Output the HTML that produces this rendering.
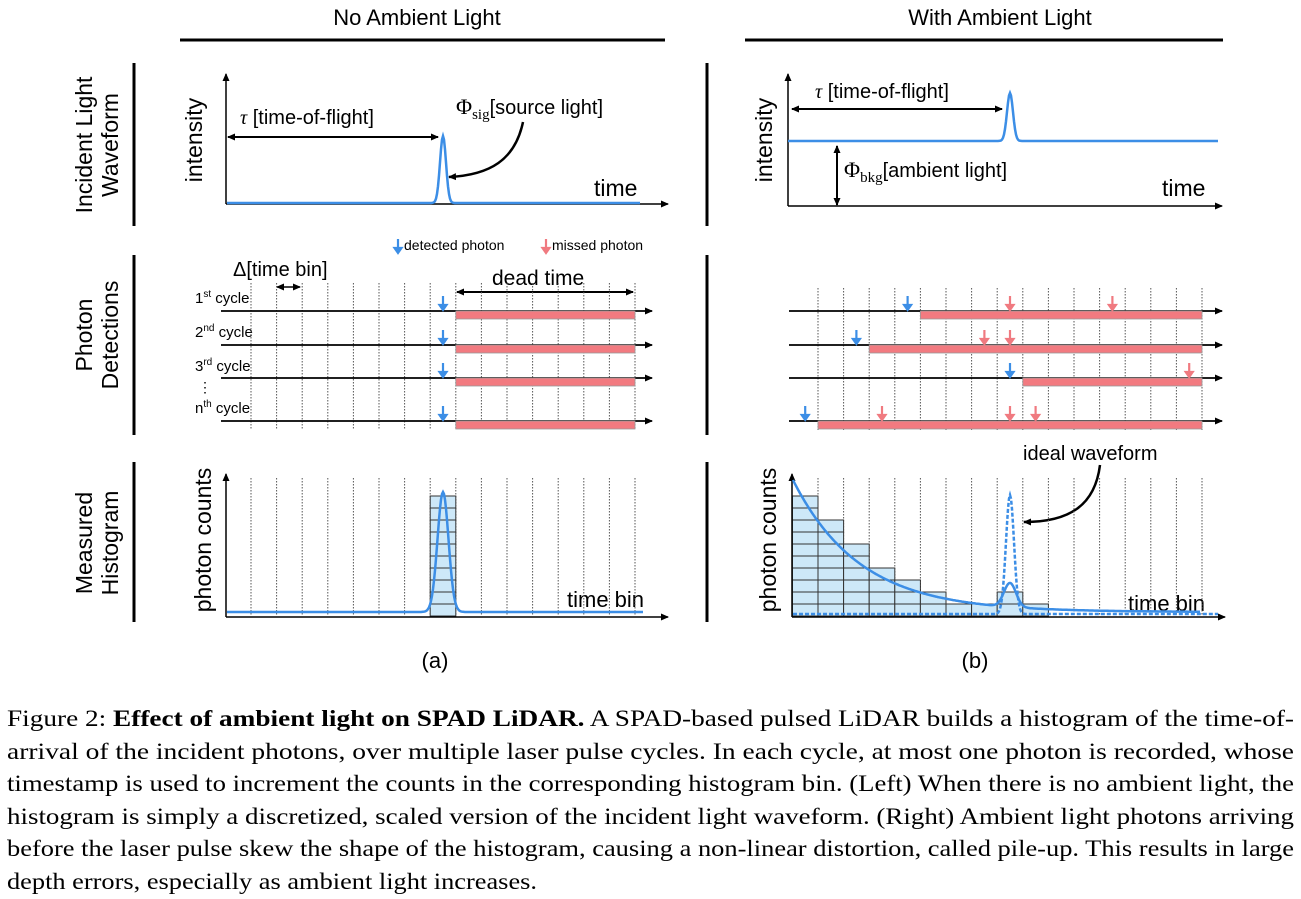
<!DOCTYPE html>
<html><head><meta charset="utf-8"><style>
html,body{margin:0;padding:0;background:#fff;width:1301px;height:899px;overflow:hidden}
svg{position:absolute;left:0;top:0}
text{font-family:"Liberation Sans",sans-serif}
#cap text{font-family:"Liberation Serif",serif;font-size:23.5px}
</style></head><body>
<svg id="fig" width="1301" height="899">
<defs>
<marker id="ah" markerWidth="8" markerHeight="8" refX="7" refY="4" orient="auto" markerUnits="userSpaceOnUse"><path d="M0,0.5 L8,4 L0,7.5 z" fill="#000"/></marker>
<marker id="ahs" markerWidth="8" markerHeight="8" refX="7" refY="4" orient="auto-start-reverse" markerUnits="userSpaceOnUse"><path d="M0,0.5 L8,4 L0,7.5 z" fill="#000"/></marker>
</defs>
<g id="static">
<text x="417" y="25" font-size="22" text-anchor="middle">No Ambient Light</text>
<line x1="180" y1="40" x2="665" y2="40" stroke="#000" stroke-width="3"/>
<text x="1000" y="25" font-size="22" text-anchor="middle">With Ambient Light</text>
<line x1="745" y1="40" x2="1223" y2="40" stroke="#000" stroke-width="3"/>
<g font-size="23" text-anchor="middle">
<text transform="translate(92,145) rotate(-90)">Incident Light</text>
<text transform="translate(118,145) rotate(-90)">Waveform</text>
<text transform="translate(92,335) rotate(-90)">Photon</text>
<text transform="translate(118,335) rotate(-90)">Detections</text>
<text transform="translate(92,543) rotate(-90)">Measured</text>
<text transform="translate(118,543) rotate(-90)">Histogram</text>
</g>
<g stroke="#000" stroke-width="3">
<line x1="134" y1="63" x2="134" y2="226"/><line x1="134" y1="255" x2="134" y2="435"/><line x1="134" y1="462" x2="134" y2="622"/>
<line x1="707" y1="63" x2="707" y2="226"/><line x1="707" y1="255" x2="707" y2="435"/><line x1="707" y1="462" x2="707" y2="622"/>
</g>
<text x="435" y="668" font-size="22" text-anchor="middle">(a)</text>
<text x="975" y="668" font-size="22" text-anchor="middle">(b)</text>

<line x1="226" y1="204" x2="226" y2="74" stroke="#000" stroke-width="1.5" marker-end="url(#ah)"/>
<line x1="226" y1="204" x2="668" y2="204" stroke="#000" stroke-width="1.5" marker-end="url(#ah)"/>
<text transform="translate(202,140) rotate(-90)" font-size="23" text-anchor="middle">intensity</text>
<text x="594" y="196" font-size="23">time</text>
<line x1="228" y1="137" x2="438" y2="137" stroke="#000" stroke-width="2" marker-start="url(#ahs)" marker-end="url(#ah)"/>
<text x="240" y="124" font-size="20"><tspan font-family="Liberation Serif" font-style="italic">τ</tspan> [time-of-flight]</text>
<text x="456" y="114" font-size="20"><tspan font-family="Liberation Serif" font-size="22">Φ</tspan><tspan font-family="Liberation Serif" font-size="15" dy="5">sig</tspan><tspan dy="-5">[source light]</tspan></text>
<path d="M523,122 C515,160 490,175 449,177" fill="none" stroke="#000" stroke-width="2.5" marker-end="url(#ah)"/>
<line x1="788" y1="206" x2="788" y2="74" stroke="#000" stroke-width="1.5" marker-end="url(#ah)"/>
<line x1="788" y1="206" x2="1222" y2="206" stroke="#000" stroke-width="1.5" marker-end="url(#ah)"/>
<text transform="translate(772,140) rotate(-90)" font-size="23" text-anchor="middle">intensity</text>
<text x="1162" y="196" font-size="23">time</text>
<line x1="792" y1="109" x2="1002" y2="109" stroke="#000" stroke-width="2" marker-start="url(#ahs)" marker-end="url(#ah)"/>
<text x="815" y="98" font-size="20"><tspan font-family="Liberation Serif" font-style="italic">τ</tspan> [time-of-flight]</text>
<line x1="837" y1="146" x2="837" y2="205" stroke="#000" stroke-width="2" marker-start="url(#ahs)" marker-end="url(#ah)"/>
<text x="844" y="177" font-size="20"><tspan font-family="Liberation Serif" font-size="22">Φ</tspan><tspan font-family="Liberation Serif" font-size="15" dy="5">bkg</tspan><tspan dy="-5">[ambient light]</tspan></text>

<text x="404" y="250" font-size="14">detected photon</text>
<text x="552" y="250" font-size="14">missed photon</text>
<text x="233" y="276" font-size="20">Δ[time bin]</text>
<line x1="277" y1="287" x2="300" y2="287" stroke="#000" stroke-width="1.5" marker-start="url(#ahs)" marker-end="url(#ah)"/>
<text x="492" y="285" font-size="21">dead time</text>
<line x1="457" y1="292" x2="633" y2="292" stroke="#000" stroke-width="2" marker-start="url(#ahs)" marker-end="url(#ah)"/>
<g font-size="15">
<text x="195" y="303">1<tspan font-size="10" dy="-6">st</tspan><tspan dy="6"> cycle</tspan></text>
<text x="195" y="337">2<tspan font-size="10" dy="-6">nd</tspan><tspan dy="6"> cycle</tspan></text>
<text x="195" y="371">3<tspan font-size="10" dy="-6">rd</tspan><tspan dy="6"> cycle</tspan></text>
<text x="198" y="392" font-size="14">⋮</text>
<text x="195" y="413">n<tspan font-size="10" dy="-6">th</tspan><tspan dy="6"> cycle</tspan></text>
</g>
<text transform="translate(211,540) rotate(-90)" font-size="23" text-anchor="middle">photon counts</text>
<text x="567" y="607" font-size="22">time bin</text>
<text transform="translate(776,540) rotate(-90)" font-size="23" text-anchor="middle">photon counts</text>
<text x="1128" y="611" font-size="22">time bin</text>
<text x="1023" y="460" font-size="20">ideal waveform</text>
<path d="M1100,465 C1095,505 1070,522 1024,522" fill="none" stroke="#000" stroke-width="2.5" marker-end="url(#ah)"/>
</g>
<g id="dyn"></g>
<g id="cap">
<text x="7" y="726" textLength="1287" lengthAdjust="spacingAndGlyphs">Figure 2: <tspan font-weight="bold">Effect of ambient light on SPAD LiDAR.</tspan> A SPAD-based pulsed LiDAR builds a histogram of the time-of-</text>
<text x="7" y="759" textLength="1287" lengthAdjust="spacingAndGlyphs">arrival of the incident photons, over multiple laser pulse cycles. In each cycle, at most one photon is recorded, whose</text>
<text x="7" y="791" textLength="1287" lengthAdjust="spacingAndGlyphs">timestamp is used to increment the counts in the corresponding histogram bin. (Left) When there is no ambient light, the</text>
<text x="7" y="824" textLength="1287" lengthAdjust="spacingAndGlyphs">histogram is simply a discretized, scaled version of the incident light waveform. (Right) Ambient light photons arriving</text>
<text x="7" y="856" textLength="1287" lengthAdjust="spacingAndGlyphs">before the laser pulse skew the shape of the histogram, causing a non-linear distortion, called pile-up. This results in large</text>
<text x="7" y="889" textLength="530" lengthAdjust="spacingAndGlyphs">depth errors, especially as ambient light increases.</text>
</g>
</svg>
<script>
// data: bin indices (0..15)
const leftHistCounts = [0,0,0,0,0,0,0,0,10,0,0,0,0,0,0,0];
const rightHistCounts = [10,8,6,4,3,2,1,1,2,1,0,0,0,0,0,0];
const leftDetected = [[8],[8],[8],[8]];
const leftMissed = [[],[],[],[]];
const leftDeadStart = [9,9,9,9];
const rightDetected = [[4],[2],[8],[0]];
const rightMissed = [[8,12],[7,8],[15],[3,8,9]];
const rightDeadStart = [5,3,9,1];

const NS='http://www.w3.org/2000/svg';
const dyn=document.getElementById('dyn');
function mk(tag,attrs,parent){const e=document.createElementNS(NS,tag);for(const k in attrs)e.setAttribute(k,attrs[k]);(parent||dyn).appendChild(e);return e;}
const BW=25.6;
const rowsY=[311,345,378,421];
const L={x0:226,grid0:225.4,lineStart:221,lineEnd:652};
const R={x0:792,grid0:792.4,lineStart:789,lineEnd:1222};
function bx(P,i){return P.grid0+i*BW;}
function yc(c){return 616-c*12;}

function arrow(x,y,c,name){
  const a=mk('path',{d:`M${x},${y-15} L${x},${y-5} M${x-3.5},${y-6} L${x},${y-1} L${x+3.5},${y-6} Z`,stroke:c,'stroke-width':2.2,fill:c});
  
  
}
function detections(P,det,miss,deadStart){
  for(let i=1;i<=16;i++){
    const l=mk('line',{x1:bx(P,i),y1:P===L?283:288,x2:bx(P,i),y2:430,stroke:'#555','stroke-width':1,'stroke-dasharray':'1.5,1.5'});
    
    
  }
  rowsY.forEach((y,r)=>{
    const ln=mk('line',{x1:P.lineStart,y1:y,x2:P.lineEnd,y2:y,stroke:'#000','stroke-width':1.8,'marker-end':'url(#ah)'});
    
    
    const x1=bx(P,deadStart[r]),x2=bx(P,16);
    const rc=mk('rect',{x:x1,y:y,width:x2-x1,height:8,fill:'#f27a80',stroke:'#999','stroke-width':0.8});
    
    
    det[r].forEach(b=>arrow(bx(P,b+0.5),y,'#3c8ee6','detected-photon-arrow'));
    miss[r].forEach(b=>arrow(bx(P,b+0.5),y,'#f07a80','missed-photon-arrow'));
  });
}
detections(L,leftDetected,leftMissed,leftDeadStart);
detections(R,rightDetected,rightMissed,rightDeadStart);
arrow(398,254,'#3c8ee6','legend-arrow-detected');
arrow(546,254,'#f07a80','legend-arrow-missed');

function gauss(x,mu,s){return Math.exp(-0.5*((x-mu)/s)**2);}
function wave(x1,x2,mu,s,base,peak,stroke,dash,name){
  let d='';for(let x=x1;x<=x2;x+=1){const y=base-(base-peak)*gauss(x,mu,s);d+=(d?'L':'M')+x+','+y.toFixed(1);}
  const p=mk('path',{d,fill:'none',stroke,'stroke-width':2.5});
  if(dash)p.setAttribute('stroke-dasharray',dash);
  
  
  return p;
}
wave(227,640,443,3,203,136,'#3c8ee6',null,'left-incident-waveform');
wave(788,1218,1010,3,141,93,'#3c8ee6',null,'right-incident-waveform');

function hist(P,counts,axisEnd){
  for(let i=1;i<=16;i++){
    const l=mk('line',{x1:bx(P,i),y1:478,x2:bx(P,i),y2:616,stroke:'#555','stroke-width':1,'stroke-dasharray':'1.5,1.5'});
    
    
  }
  counts.forEach((c,i)=>{
    for(let k=0;k<c;k++){
      const r=mk('rect',{x:bx(P,i),y:yc(k+1),width:BW,height:12,fill:'#cde8f8',stroke:'#333','stroke-width':1});
      
      
    }
  });
  const ya=mk('line',{x1:P.x0,y1:617,x2:P.x0,y2:474,stroke:'#000','stroke-width':1.5,'marker-end':'url(#ah)'});
  
  
  const xa=mk('line',{x1:P.x0,y1:617,x2:axisEnd,y2:617,stroke:'#000','stroke-width':1.5,'marker-end':'url(#ah)'});
  
  
}
hist(L,leftHistCounts,668);
hist(R,rightHistCounts,1225);
wave(227,643,bx(L,8.5),5.5,612,492,'#3c8ee6',null,'left-histogram-curve');
wave(793,1218,bx(R,8.5),4,614,495,'#3c8ee6','4,2','ideal-waveform-dashed');
(function(){
  let d='';
  for(let x=793;x<=1200;x++){
    const t=(x-793)/BW;
    let y=612-(612-480)*Math.exp(-t/2.6);
    y-=24*gauss(x,bx(R,8.5),6);
    d+=(d?'L':'M')+x+','+y.toFixed(1);
  }
  const p=mk('path',{d,fill:'none',stroke:'#3c8ee6','stroke-width':2.5});
  
  
})();
</script>
</body></html>
